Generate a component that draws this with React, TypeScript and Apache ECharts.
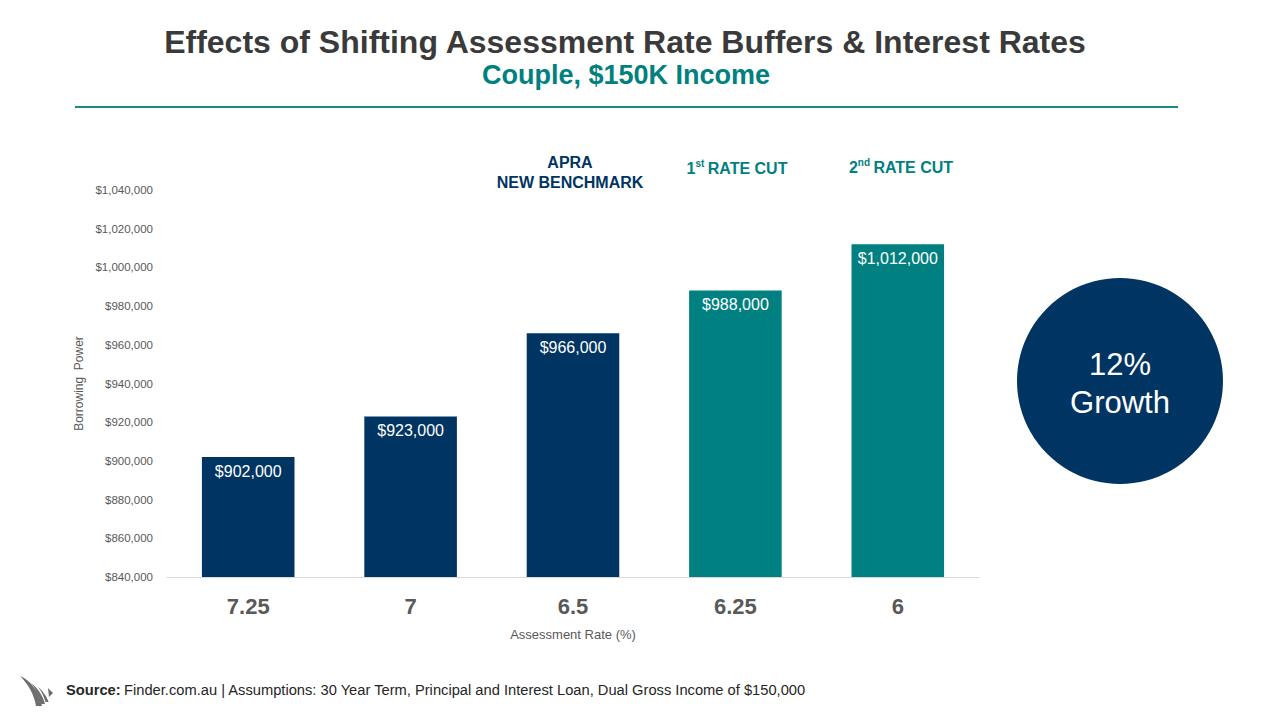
import React, { useEffect, useRef } from "react";
import * as echarts from "echarts";

const categories = ["7.25", "7", "6.5", "6.25", "6"];
const borrowingPower = [902000, 923000, 966000, 988000, 1012000];
const barColors = ["#003462", "#003462", "#003462", "#008080", "#008080"];
const yMin = 840000;
const yMax = 1040000;
const yInterval = 20000;

const fmt = (v: number) => "$" + v.toLocaleString("en-US");

const LOGO_D =
  "M0 1 C10 5 19 16 22 31 L16 31 C14 19 8 9 0 1 Z M11 8 C18 13 23 21 25 29 L21.5 29 C20 22 16 14 11 8 Z M18 12 C23 16 27 22 28.5 27 L25.5 27 C24 22 22 17 18 12 Z M28 13 L33 18 L29 22 Z";

export default function App() {
  const ref = useRef<HTMLDivElement>(null);
  useEffect(() => {
    if (!ref.current) return;
    try {
      echarts.graphic.registerShape("logo", echarts.graphic.extendPath(LOGO_D, {}) as any);
    } catch (e) {}
    const chart = echarts.init(ref.current, null, { renderer: "svg" });
    const font = "Arial, 'Liberation Sans', sans-serif";
    const teal = "#00807f";
    const rateRich = {
      n: { font: "bold 16px " + font, fill: teal, verticalAlign: "bottom" },
      sup: { font: "bold 10px " + font, fill: teal, verticalAlign: "top", padding: [0, 0, 8, 0] },
      b: { font: "bold 16px " + font, fill: teal, verticalAlign: "bottom" },
    };
    chart.setOption({
      animation: false,
      backgroundColor: "#ffffff",
      textStyle: { fontFamily: font },
      grid: { left: 167, right: 301, top: 190, bottom: 143 },
      xAxis: {
        type: "category",
        data: categories,
        axisLine: { lineStyle: { color: "#d9d9d9" } },
        axisTick: { show: false },
        axisLabel: { fontSize: 22, fontWeight: "bold", color: "#595959", margin: 18 },
        name: "Assessment Rate (%)",
        nameLocation: "middle",
        nameGap: 51,
        nameTextStyle: { fontSize: 13, color: "#595959" },
      },
      yAxis: {
        type: "value",
        min: yMin,
        max: yMax,
        interval: yInterval,
        splitLine: { show: false },
        axisLine: { show: false },
        axisTick: { show: false },
        axisLabel: { fontSize: 11.5, color: "#595959", margin: 14, formatter: (v: number) => fmt(v) },
        name: "Borrowing  Power",
        nameLocation: "middle",
        nameGap: 77,
        nameTextStyle: { fontSize: 12, color: "#595959" },
      },
      series: [
        {
          type: "bar",
          barWidth: "57%",
          data: borrowingPower.map((v, i) => ({ value: v, itemStyle: { color: barColors[i] } })),
          label: {
            show: true,
            position: "insideTop",
            distance: 6,
            color: "#ffffff",
            fontSize: 16,
            formatter: (p: any) => fmt(p.value),
          },
        },
      ],
      graphic: [
        {
          type: "text",
          x: 625,
          y: 42,
          style: {
            text: "Effects of Shifting Assessment Rate Buffers & Interest Rates",
            font: "bold 32px " + font,
            fill: "#3a3a3a",
            align: "center",
            verticalAlign: "middle",
          },
        },
        {
          type: "text",
          x: 626,
          y: 75,
          style: {
            text: "Couple, $150K Income",
            font: "bold 27px " + font,
            fill: teal,
            align: "center",
            verticalAlign: "middle",
          },
        },
        {
          type: "line",
          shape: { x1: 75, y1: 107, x2: 1178, y2: 107 },
          style: { stroke: "#1a8a87", lineWidth: 2 },
        },
        {
          type: "text",
          x: 570,
          y: 172,
          style: {
            text: "APRA\nNEW BENCHMARK",
            font: "bold 16px " + font,
            fill: "#003462",
            align: "center",
            verticalAlign: "middle",
            lineHeight: 20,
          },
        },
        {
          type: "text",
          x: 737,
          y: 167,
          style: {
            text: "{n|1}{sup|st} {b|RATE CUT}",
            align: "center",
            verticalAlign: "middle",
            rich: rateRich,
          },
        },
        {
          type: "text",
          x: 901,
          y: 166,
          style: {
            text: "{n|2}{sup|nd} {b|RATE CUT}",
            align: "center",
            verticalAlign: "middle",
            rich: rateRich,
          },
        },
        {
          type: "circle",
          shape: { cx: 1120, cy: 381, r: 103 },
          style: { fill: "#003462" },
        },
        {
          type: "text",
          x: 1120,
          y: 383,
          style: {
            text: "12%\nGrowth",
            font: "31px " + font,
            fill: "#ffffff",
            align: "center",
            verticalAlign: "middle",
            lineHeight: 38,
          },
        },
        {
          type: "logo",
          x: 20,
          y: 675,
          style: { fill: "#6e6e6e" },
        },
        {
          type: "text",
          x: 66,
          y: 690,
          style: {
            text: "{b|Source:} {n|Finder.com.au | Assumptions: 30 Year Term, Principal and Interest Loan, Dual Gross Income of $150,000}",
            verticalAlign: "middle",
            rich: {
              b: { font: "bold 14.7px " + font, fill: "#262626" },
              n: { font: "14.7px " + font, fill: "#262626" },
            },
          },
        },
      ],
    });
    return () => chart.dispose();
  }, []);
  return (
    <div
      ref={ref}
      style={{ position: "fixed", left: 0, top: 0, width: 1280, height: 720 }}
    />
  );
}
